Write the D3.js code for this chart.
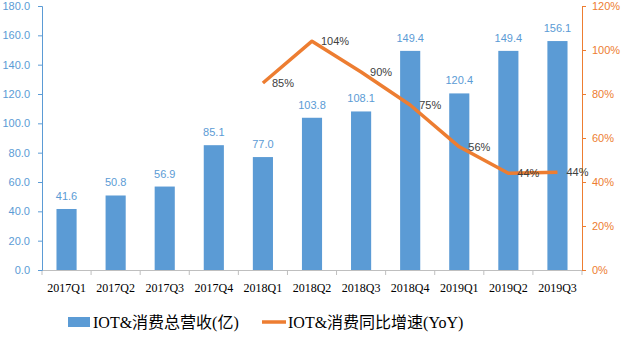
<!DOCTYPE html>
<html><head><meta charset="utf-8">
<script src="https://cdn.jsdelivr.net/npm/d3@7"></script>
<style>body{margin:0;background:#fff}svg{display:block}</style>
</head><body>
<svg id="c" width="621" height="344"></svg>
<script>
const categories = ["2017Q1","2017Q2","2017Q3","2017Q4","2018Q1","2018Q2","2018Q3","2018Q4","2019Q1","2019Q2","2019Q3"];
const revenue = [41.6,50.8,56.9,85.1,77.0,103.8,108.1,149.4,120.4,149.4,156.1];
const yoy = [null,null,null,null,85,104,90,75,56,44.0,44.4];
const yoyLabels = [null,null,null,null,"85%","104%","90%","75%","56%","44%","44%"];
const leftTicks = [0,20,40,60,80,100,120,140,160,180];
const rightTicks = [0,20,40,60,80,100,120];
const legendNames = ["IOT&消费总营收(亿)","IOT&消费同比增速(YoY)"];

const svg = d3.select("#c");
const L = 42, R = 582, T = 6, B = 270;
const blue = "#5b9bd5", orange = "#ed7d31";
const x = d3.scaleBand().domain(categories).range([L, R]).paddingInner(0.59).paddingOuter(0.295);
const xb = d3.scaleBand().domain(categories).range([L, R]);
const yL = d3.scaleLinear().domain([0,180]).range([B, T]);
const yR = d3.scaleLinear().domain([0,120]).range([B, T]);

// bars
svg.append("g").selectAll("rect").data(revenue).join("rect")
  .attr("x", (d,i)=>x(categories[i])).attr("width", x.bandwidth())
  .attr("y", d=>yL(d)).attr("height", d=>B-yL(d)).attr("fill", blue);
svg.append("g").selectAll("text").data(revenue).join("text")
  .attr("x",(d,i)=>x(categories[i])+x.bandwidth()/2).attr("y", d=>yL(d)-9)
  .attr("text-anchor","middle").attr("font-family","Liberation Sans, Arial, sans-serif")
  .attr("font-size",11).attr("fill",blue).text(d=>d.toFixed(1));

// x axis
const xa = svg.append("g").attr("transform",`translate(0,${B})`)
  .call(d3.axisBottom(xb).tickSize(0).tickPadding(13));
xa.select(".domain").attr("stroke","#bfbfbf");
xa.selectAll("text").attr("font-family","Liberation Serif, Times New Roman, serif").attr("font-size",12).attr("fill","#000");
xa.selectAll(".bnd").data(d3.range(categories.length+1)).join("line")
  .attr("x1",i=>L+i*xb.step()).attr("x2",i=>L+i*xb.step()).attr("y1",0).attr("y2",5).attr("stroke","#bfbfbf");

// left axis
const la = svg.append("g").attr("transform",`translate(${L},0)`)
  .call(d3.axisLeft(yL).tickValues(leftTicks).tickSize(4).tickPadding(8).tickFormat(d=>d.toFixed(1)));
la.select(".domain").attr("stroke",blue);
la.selectAll(".tick line").attr("stroke",blue);
la.selectAll("text").attr("font-family","Liberation Sans, Arial, sans-serif").attr("font-size",11).attr("fill",blue);

// right axis
const ra = svg.append("g").attr("transform",`translate(${R},0)`)
  .call(d3.axisRight(yR).tickValues(rightTicks).tickSize(4).tickPadding(6).tickFormat(d=>d+"%"));
ra.select(".domain").attr("stroke",orange);
ra.selectAll(".tick line").attr("stroke",orange);
ra.selectAll("text").attr("font-family","Liberation Sans, Arial, sans-serif").attr("font-size",11).attr("fill",orange);

// line
const pts = yoy.map((v,i)=>({v,i})).filter(d=>d.v!==null);
const line = d3.line().x(d=>xb(categories[d.i])+xb.bandwidth()/2).y(d=>yR(d.v));
svg.append("path").datum(pts).attr("d",line).attr("fill","none").attr("stroke",orange).attr("stroke-width",3.5).attr("stroke-linejoin","round");
svg.append("g").selectAll("text").data(pts).join("text")
  .attr("x",d=>xb(categories[d.i])+xb.bandwidth()/2+9).attr("y",d=>yR(d.v)+4)
  .attr("font-family","Liberation Sans, Arial, sans-serif").attr("font-size",11).attr("fill","#404040")
  .text(d=>yoyLabels[d.i]);

// legend
const lg = svg.append("g").attr("font-family","Liberation Serif, Times New Roman, Noto Sans CJK SC, serif").attr("font-size",16).attr("fill","#000");
lg.append("rect").attr("x",68).attr("y",317).attr("width",22).attr("height",10).attr("fill",blue);
lg.append("text").attr("x",93).attr("y",328).text(legendNames[0]);
lg.append("line").attr("x1",262).attr("x2",286).attr("y1",322).attr("y2",322).attr("stroke",orange).attr("stroke-width",3.5);
lg.append("text").attr("x",288).attr("y",328).text(legendNames[1]);
</script>
</body></html>
